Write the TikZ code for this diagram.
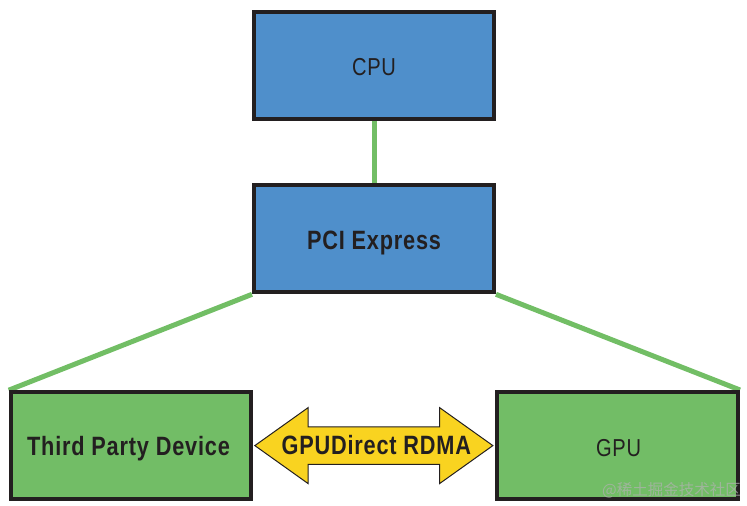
\documentclass[tikz,border=0pt]{standalone}
\usepackage{fontspec}
\setmainfont{Liberation Sans}[FakeStretch=0.82, LetterSpace=3]
\newfontfamily\cjk{Noto Sans CJK SC}
\usetikzlibrary{calc,backgrounds}
\definecolor{edge}{HTML}{231F20}
\definecolor{cpublue}{HTML}{4F8FCB}
\definecolor{boxgreen}{HTML}{72BD66}
\definecolor{linkgreen}{HTML}{72BE65}
\definecolor{rdmayellow}{HTML}{F9D320}
\begin{document}
\begin{tikzpicture}[x=1pt,y=-1pt,
  box/.style={draw=edge, line width=4pt, minimum width=240pt, minimum height=107pt, inner sep=0pt},
  bluebox/.style={box, fill=cpublue},
  greenbox/.style={box, fill=boxgreen},
  regtext/.style={font=\fontsize{24.5}{28}\selectfont, text=edge},
  boldtext/.style={font=\bfseries\fontsize{26.5}{30}\selectfont, text=edge},
  link/.style={draw=linkgreen, line width=5pt},
  rdma/.style={draw=edge, line width=1pt, fill=rdmayellow, line join=miter}]
\useasboundingbox (0,0) rectangle (747,506);
\node[bluebox] (cpu) at (374,65) {};
\node[regtext] (cputext) at (374,67) {CPU};
\node[bluebox] (pci) at (374,238.8) {};
\node[boldtext] (pcitext) at (374,243) {PCI Express};
\node[greenbox] (tpd) at (130.7,445.7) {};
\node[boldtext] (tpdtext) at (128.5,448.5) {Third Party Device};
\node[greenbox, minimum width=241pt] (gpu) at (617.5,445.5) {};
\node[regtext] (gputext) at (618.5,448) {GPU};
\begin{pgfonlayer}{background}
\draw[link] (cpu.south) -- (pci.north);
\draw[link] (pci.south west) -- (tpd.north west);
\draw[link] (pci.south east) -- (gpu.north east);
\end{pgfonlayer}
\coordinate (rc) at ($(tpd.east)!0.5!(gpu.west)$);
\draw[rdma, shift={(rc)}] (-119,0) -- (-65.7,-38) -- (-65.7,-18.7) -- (65.7,-18.7) -- (65.7,-38) -- (119,0) -- (65.7,38) -- (65.7,18.7) -- (-65.7,18.7) -- (-65.7,38) -- cycle;
\node[boldtext] (rdmatext) at ([xshift=2.5pt,yshift=0.5pt]rc) {GPUDirect RDMA};
\node[anchor=east, text=white!70!black, opacity=0.7, font=\cjk\fontsize{15.5}{15.5}\selectfont, inner sep=0pt] (wm) at (741,490) {@稀土掘金技术社区};
\end{tikzpicture}
\end{document}
